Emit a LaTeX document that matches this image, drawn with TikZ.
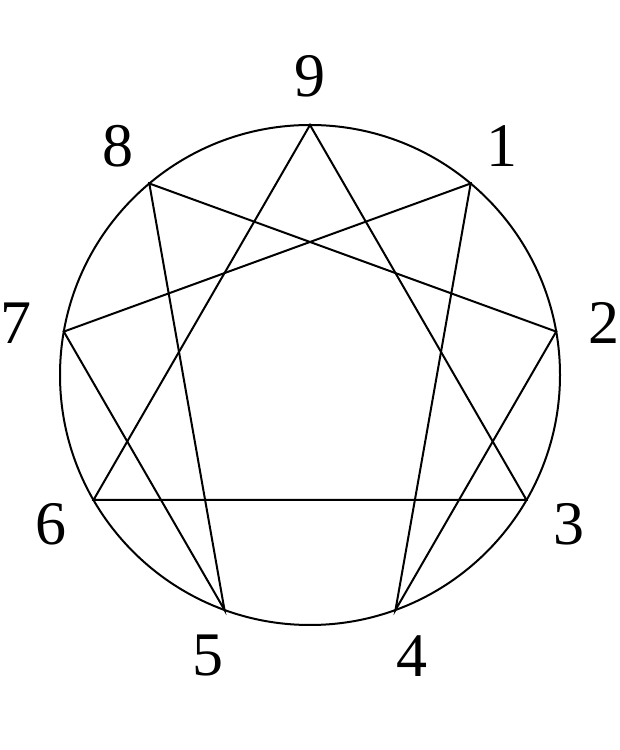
\documentclass[tikz,border=0pt]{standalone}
\usepackage{fontspec}
\setmainfont{Liberation Serif}
\usepackage{tikz}
\usetikzlibrary{positioning}

\begin{document}
\begin{tikzpicture}[x=1pt, y=1pt, line width=2pt,
    num/.style={inner sep=0pt, font=\fontsize{62}{62}\selectfont}]
    \useasboundingbox (0,0) rectangle (620,750);
    \coordinate (c) at (310,375);
    \draw (c) circle[radius=250pt];
    % points and numbers round the circle
    \foreach \n in {1,...,9} {
        \coordinate (p\n) at ([shift={(c)}] {90-40*\n}:250);
        \node[num] (l\n) at ([shift={(c)}] {90-40*\n}:299) {\n};
    }
    \draw (p9) -- (p3) -- (p6) -- cycle;
    \draw (p1) -- (p4) -- (p2) -- (p8) -- (p5) -- (p7) -- cycle;
\end{tikzpicture}
\end{document}
